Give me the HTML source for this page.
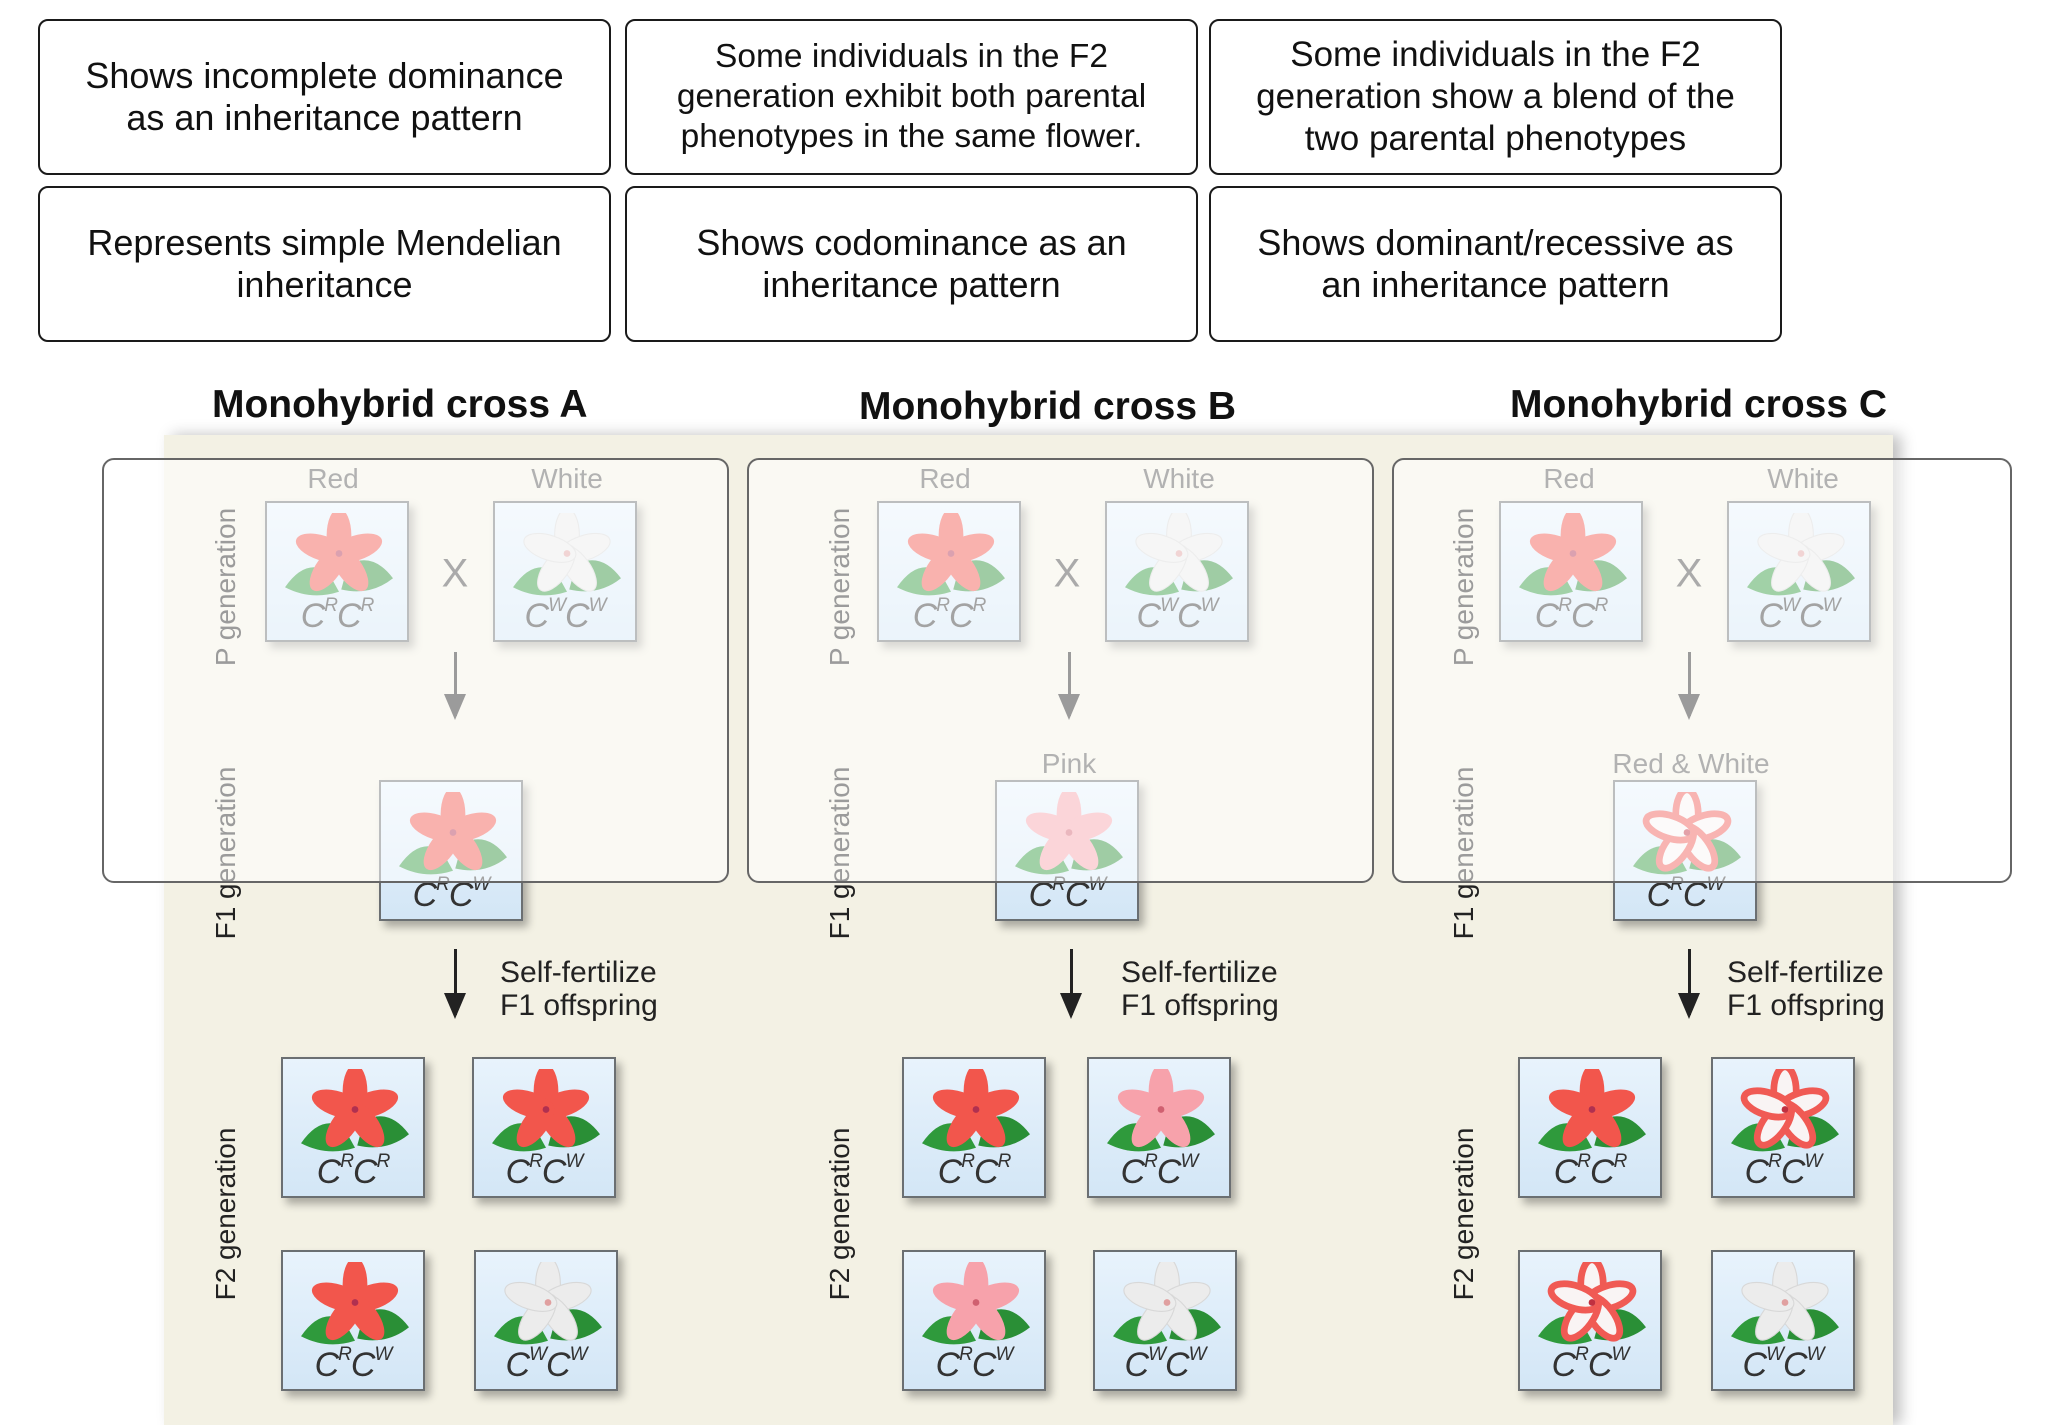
<!DOCTYPE html>
<html><head><meta charset="utf-8"><style>
body{margin:0;width:2046px;height:1425px;background:#fff;position:relative;overflow:hidden;font-family:"Liberation Sans",sans-serif}
.tb{position:absolute;box-sizing:border-box;border:2.5px solid #1a1a1a;border-radius:10px;display:flex;align-items:center;justify-content:center;text-align:center;font-size:36px;line-height:42px;color:#111;width:573px;height:156px}
.h{position:absolute;font-weight:bold;font-size:39px;color:#111;white-space:nowrap}
.bg{position:absolute;left:164px;top:435px;width:1729px;height:990px;background:#f3f1e4;box-shadow:8px 0 14px rgba(0,0,0,.25)}
.card{position:absolute;width:144px;height:141px;box-sizing:border-box;border:2px solid #6b6f72;background:linear-gradient(#e8f3fc,#d3e6f6);box-shadow:5px 6px 8px rgba(0,0,0,.3)}
.card svg{position:absolute;left:14px;top:10px;width:116px;height:90px}
.g{position:absolute;left:0;right:0;bottom:4px;text-align:center;font-style:italic;font-size:34px;color:#333;letter-spacing:-1px}
.g sup{font-size:19px;vertical-align:top;position:relative;top:-2px}
.lab{position:absolute;font-size:28px;color:#555;transform:translateX(-50%);white-space:nowrap}
.rot{position:absolute;font-size:28px;color:#222;transform:translate(-50%,-50%) rotate(-90deg);white-space:nowrap}
.x{position:absolute;font-size:40px;color:#444;transform:translate(-50%,-50%)}
.arr{position:absolute;width:3px;background:#222}
.arr:after{content:"";position:absolute;left:-10px;bottom:-4px;border-left:11.5px solid transparent;border-right:11.5px solid transparent;border-top:26px solid #222}
.sf{position:absolute;font-size:30px;line-height:33px;color:#222}
.ov{position:absolute;top:458px;height:425px;width:627px;box-sizing:border-box;border:2px solid #666;border-radius:12px;background:rgba(255,255,255,.55)}
</style></head><body>
<svg width="0" height="0" style="position:absolute">
<defs>
<g id="lv"><path d="M2 66 Q20 40 40 52 L50 70 Q25 78 2 66Z" fill="#2f9a3c"/><path d="M98 58 Q80 34 58 46 L52 68 Q78 74 98 58Z" fill="#2a8f36"/></g>
<symbol id="fr" viewBox="0 0 100 80"><use href="#lv"/><g transform="translate(50 36)" fill="#f2564c"><ellipse rx="11" ry="24" cy="-16"/><ellipse rx="11" ry="24" cy="-16" transform="rotate(72)"/><ellipse rx="11" ry="24" cy="-16" transform="rotate(144)"/><ellipse rx="11" ry="24" cy="-16" transform="rotate(216)"/><ellipse rx="11" ry="24" cy="-16" transform="rotate(288)"/><circle r="3" fill="#b03050"/></g></symbol>
<symbol id="fp" viewBox="0 0 100 80"><use href="#lv"/><g transform="translate(50 36)" fill="#f7a2ab"><ellipse rx="11" ry="24" cy="-16"/><ellipse rx="11" ry="24" cy="-16" transform="rotate(72)"/><ellipse rx="11" ry="24" cy="-16" transform="rotate(144)"/><ellipse rx="11" ry="24" cy="-16" transform="rotate(216)"/><ellipse rx="11" ry="24" cy="-16" transform="rotate(288)"/><circle r="3" fill="#d06070"/></g></symbol>
<symbol id="fw" viewBox="0 0 100 80"><use href="#lv"/><g transform="translate(50 36)" fill="#ececec" stroke="#d8d8d8"><ellipse rx="11" ry="24" cy="-16"/><ellipse rx="11" ry="24" cy="-16" transform="rotate(72)"/><ellipse rx="11" ry="24" cy="-16" transform="rotate(144)"/><ellipse rx="11" ry="24" cy="-16" transform="rotate(216)"/><ellipse rx="11" ry="24" cy="-16" transform="rotate(288)"/><circle r="3" fill="#e0a0a0" stroke="none"/></g></symbol>
<symbol id="fm" viewBox="0 0 100 80"><use href="#lv"/><g transform="translate(50 36)" fill="#f9f4f4" stroke="#f05a54" stroke-width="6"><ellipse rx="10" ry="22" cy="-16"/><ellipse rx="10" ry="22" cy="-16" transform="rotate(72)"/><ellipse rx="10" ry="22" cy="-16" transform="rotate(144)"/><ellipse rx="10" ry="22" cy="-16" transform="rotate(216)"/><ellipse rx="10" ry="22" cy="-16" transform="rotate(288)"/><circle r="3" fill="#c03040" stroke="none"/></g></symbol>
</defs></svg>

<div class="tb" style="left:38px;top:19px">Shows incomplete dominance<br>as an inheritance pattern</div>
<div class="tb" style="left:625px;top:19px;font-size:33.5px;line-height:40px">Some individuals in the F2<br>generation exhibit both parental<br>phenotypes in the same flower.</div>
<div class="tb" style="left:1209px;top:19px;font-size:35px">Some individuals in the F2<br>generation show a blend of the<br>two parental phenotypes</div>
<div class="tb" style="left:38px;top:186px">Represents simple Mendelian<br>inheritance</div>
<div class="tb" style="left:625px;top:186px">Shows codominance as an<br>inheritance pattern</div>
<div class="tb" style="left:1209px;top:186px">Shows dominant/recessive as<br>an inheritance pattern</div>

<div class="h" style="left:212px;top:383px">Monohybrid cross A</div>
<div class="h" style="left:859px;top:385px">Monohybrid cross B</div>
<div class="h" style="left:1510px;top:383px">Monohybrid cross C</div>

<div class="bg"></div>

<!-- Cross A -->
<div class="rot" style="left:226px;top:587px">P generation</div>
<div class="rot" style="left:226px;top:853px">F1 generation</div>
<div class="rot" style="left:226px;top:1214px">F2 generation</div>
<div class="lab" style="left:333px;top:463px">Red</div>
<div class="lab" style="left:567px;top:463px">White</div>
<div class="x" style="left:455px;top:574px">X</div>
<div class="card" style="left:265px;top:501px"><svg><use href="#fr"/></svg><div class="g">C<sup>R</sup>C<sup>R</sup></div></div>
<div class="card" style="left:493px;top:501px"><svg><use href="#fw"/></svg><div class="g">C<sup>W</sup>C<sup>W</sup></div></div>
<div class="arr" style="left:454px;top:652px;height:64px"></div>
<div class="card" style="left:379px;top:780px"><svg><use href="#fr"/></svg><div class="g">C<sup>R</sup>C<sup>W</sup></div></div>
<div class="arr" style="left:454px;top:949px;height:66px"></div>
<div class="sf" style="left:500px;top:956px">Self-fertilize<br>F1 offspring</div>
<div class="card" style="left:281px;top:1057px"><svg><use href="#fr"/></svg><div class="g">C<sup>R</sup>C<sup>R</sup></div></div>
<div class="card" style="left:472px;top:1057px"><svg><use href="#fr"/></svg><div class="g">C<sup>R</sup>C<sup>W</sup></div></div>
<div class="card" style="left:281px;top:1250px"><svg><use href="#fr"/></svg><div class="g">C<sup>R</sup>C<sup>W</sup></div></div>
<div class="card" style="left:474px;top:1250px"><svg><use href="#fw"/></svg><div class="g">C<sup>W</sup>C<sup>W</sup></div></div>

<!-- Cross B -->
<div class="rot" style="left:840px;top:587px">P generation</div>
<div class="rot" style="left:840px;top:853px">F1 generation</div>
<div class="rot" style="left:840px;top:1214px">F2 generation</div>
<div class="lab" style="left:945px;top:463px">Red</div>
<div class="lab" style="left:1179px;top:463px">White</div>
<div class="x" style="left:1067px;top:574px">X</div>
<div class="card" style="left:877px;top:501px"><svg><use href="#fr"/></svg><div class="g">C<sup>R</sup>C<sup>R</sup></div></div>
<div class="card" style="left:1105px;top:501px"><svg><use href="#fw"/></svg><div class="g">C<sup>W</sup>C<sup>W</sup></div></div>
<div class="arr" style="left:1068px;top:652px;height:64px"></div>
<div class="lab" style="left:1069px;top:748px">Pink</div>
<div class="card" style="left:995px;top:780px"><svg><use href="#fp"/></svg><div class="g">C<sup>R</sup>C<sup>W</sup></div></div>
<div class="arr" style="left:1070px;top:949px;height:66px"></div>
<div class="sf" style="left:1121px;top:956px">Self-fertilize<br>F1 offspring</div>
<div class="card" style="left:902px;top:1057px"><svg><use href="#fr"/></svg><div class="g">C<sup>R</sup>C<sup>R</sup></div></div>
<div class="card" style="left:1087px;top:1057px"><svg><use href="#fp"/></svg><div class="g">C<sup>R</sup>C<sup>W</sup></div></div>
<div class="card" style="left:902px;top:1250px"><svg><use href="#fp"/></svg><div class="g">C<sup>R</sup>C<sup>W</sup></div></div>
<div class="card" style="left:1093px;top:1250px"><svg><use href="#fw"/></svg><div class="g">C<sup>W</sup>C<sup>W</sup></div></div>

<!-- Cross C -->
<div class="rot" style="left:1464px;top:587px">P generation</div>
<div class="rot" style="left:1464px;top:853px">F1 generation</div>
<div class="rot" style="left:1464px;top:1214px">F2 generation</div>
<div class="lab" style="left:1569px;top:463px">Red</div>
<div class="lab" style="left:1803px;top:463px">White</div>
<div class="x" style="left:1689px;top:574px">X</div>
<div class="card" style="left:1499px;top:501px"><svg><use href="#fr"/></svg><div class="g">C<sup>R</sup>C<sup>R</sup></div></div>
<div class="card" style="left:1727px;top:501px"><svg><use href="#fw"/></svg><div class="g">C<sup>W</sup>C<sup>W</sup></div></div>
<div class="arr" style="left:1688px;top:652px;height:64px"></div>
<div class="lab" style="left:1691px;top:748px">Red &amp; White</div>
<div class="card" style="left:1613px;top:780px"><svg><use href="#fm"/></svg><div class="g">C<sup>R</sup>C<sup>W</sup></div></div>
<div class="arr" style="left:1688px;top:949px;height:66px"></div>
<div class="sf" style="left:1727px;top:956px">Self-fertilize<br>F1 offspring</div>
<div class="card" style="left:1518px;top:1057px"><svg><use href="#fr"/></svg><div class="g">C<sup>R</sup>C<sup>R</sup></div></div>
<div class="card" style="left:1711px;top:1057px"><svg><use href="#fm"/></svg><div class="g">C<sup>R</sup>C<sup>W</sup></div></div>
<div class="card" style="left:1518px;top:1250px"><svg><use href="#fm"/></svg><div class="g">C<sup>R</sup>C<sup>W</sup></div></div>
<div class="card" style="left:1711px;top:1250px"><svg><use href="#fw"/></svg><div class="g">C<sup>W</sup>C<sup>W</sup></div></div>

<div class="ov" style="left:102px"></div>
<div class="ov" style="left:747px"></div>
<div class="ov" style="left:1392px;width:620px"></div>
</body></html>
